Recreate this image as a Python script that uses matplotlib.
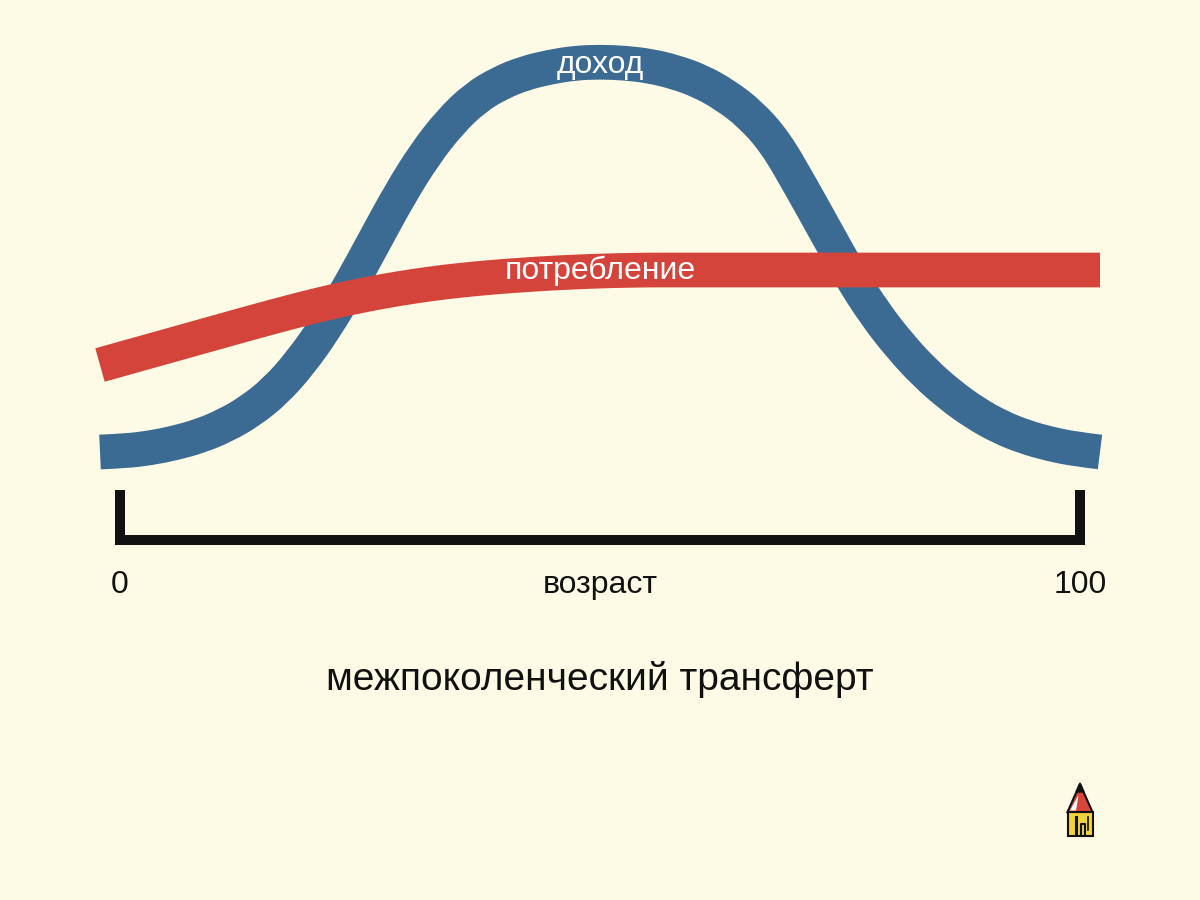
import matplotlib
matplotlib.use("Agg")
import matplotlib.pyplot as plt
from matplotlib.patches import Polygon, Rectangle, PathPatch
from matplotlib.path import Path
import numpy as np

# ---- data (age in years, levels in arbitrary units) ----
ages = [0, 2.5, 5, 7.5, 10, 12.5, 15, 17.5, 20, 22.5, 25, 27.5, 30, 32.5, 35, 37.5,
        40, 42.5, 45, 47.5, 50, 52.5, 55, 57.5, 60, 62.5, 65, 67.5, 70, 72.5, 75,
        77.5, 80, 82.5, 85, 87.5, 90, 92.5, 95, 97.5, 100]
income = [22.0, 22.25, 23.0, 24.25, 26.0, 28.6, 32.2, 37.2, 44.2, 53.0, 63.5,
          75.0, 86.5, 96.5, 104.5, 110.5, 114.25, 116.75, 118.25, 119.25, 119.5,
          119.25, 118.5, 117.0, 114.75, 111.25, 106.5, 99.5, 88.75, 77.5, 66.25,
          56.5, 48.5, 41.75, 36.25, 31.75, 28.25, 25.75, 24.0, 22.75, 22.0]
consumption = [43.75, 45.5, 47.25, 49.0, 50.75, 52.5, 54.25, 55.95, 57.6, 59.15,
               60.55, 61.8, 62.9, 63.85, 64.65, 65.3, 65.85, 66.3, 66.7, 67.0,
               67.25, 67.4, 67.5, 67.5, 67.5, 67.5, 67.5, 67.5, 67.5, 67.5, 67.5,
               67.5, 67.5, 67.5, 67.5, 67.5, 67.5, 67.5, 67.5, 67.5, 67.5]

income_label = "доход"
consumption_label = "потребление"
axis_label = "возраст"
tick_labels = ["0", "100"]
title = "межпоколенческий трансферт"

BG = "#FDFAE6"
BLUE = "#3B6A92"
RED = "#D5443A"
INK = "#111111"

fig = plt.figure(figsize=(12, 9), dpi=100, facecolor=BG)
ax = fig.add_axes([0, 0, 1, 1])
ax.set_facecolor(BG)
ax.set_xlim(-10, 110)
ax.set_ylim(-90, 135)
ax.axis("off")

font = ["Liberation Sans", "DejaVu Sans"]


def smooth_path(xs, ys):
    """Quadratic B-spline style path through the data points (rendering only)."""
    pts = list(zip(xs, ys))
    verts = [pts[0]]
    codes = [Path.MOVETO]
    for i in range(1, len(pts) - 1):
        mid = ((pts[i][0] + pts[i + 1][0]) / 2, (pts[i][1] + pts[i + 1][1]) / 2)
        if i == len(pts) - 2:
            mid = pts[-1]
        verts += [pts[i], mid]
        codes += [Path.CURVE3, Path.CURVE3]
    return Path(verts, codes)


ax.add_patch(PathPatch(smooth_path(ages, income), facecolor="none", edgecolor=BLUE,
                       lw=25, capstyle="butt", joinstyle="round", zorder=1))
ax.add_patch(PathPatch(smooth_path(ages, consumption), facecolor="none",
                       edgecolor=RED, lw=25, capstyle="butt", joinstyle="round",
                       zorder=2))

ax.text(50, 118.8, income_label, color="white", fontsize=23, family=font,
        ha="center", va="center", zorder=3)
ax.text(50, 67.3, consumption_label, color="white", fontsize=23, family=font,
        ha="center", va="center", zorder=3)

# bracket axis
x0, x1 = 2.0, 98.0
ax.plot([x0, x0, x1, x1], [12.5, 0, 0, 12.5], color=INK, lw=7.2,
        solid_capstyle="butt", solid_joinstyle="miter", zorder=2)
ax.text(x0, -11.3, tick_labels[0], fontsize=23, family=font, color=INK,
        ha="center", va="center")
ax.text(x1, -11.3, tick_labels[1], fontsize=23, family=font, color=INK,
        ha="center", va="center")
ax.text(50, -11.3, axis_label, fontsize=23, family=font, color=INK,
        ha="center", va="center")
ax.text(50, -34.8, title, fontsize=28, family=font, color=INK,
        ha="center", va="center")

# pencil icon (decoration)
def px(xp, yp):
    return ((xp - 100) / 10.0, (540 - yp) / 4.0)

body = Rectangle(px(1067.5, 836), 25 / 10.0, 24 / 4.0, facecolor="#F2D33B",
                 edgecolor=INK, lw=1.5, zorder=5)
ax.add_patch(body)
cone = Polygon([px(1067.5, 812), px(1092.5, 812), px(1080, 784)],
               closed=True, facecolor="#D9453B", edgecolor=INK, lw=1.5, zorder=5)
ax.add_patch(cone)
light = Polygon([px(1070, 810.5), px(1076, 810.5), px(1078.5, 795)],
                closed=True, facecolor="white", edgecolor="none", zorder=6)
ax.add_patch(light)
tip = Polygon([px(1076, 792), px(1084, 792), px(1080, 783)],
              closed=True, facecolor=INK, edgecolor=INK, lw=1, zorder=6)
ax.add_patch(tip)
for xs, ys, w in [([1075.5, 1075.5], [817, 834], 2.2),
                  ([1080.5, 1080.5, 1085, 1085], [834, 824, 824, 834], 1.5),
                  ([1088, 1088], [817, 830], 1.2)]:
    xy = [px(a, b) for a, b in zip(xs, ys)]
    ax.plot([p[0] for p in xy], [p[1] for p in xy], color=INK, lw=w, zorder=6)

fig.savefig("out.png", dpi=100, facecolor=BG)
